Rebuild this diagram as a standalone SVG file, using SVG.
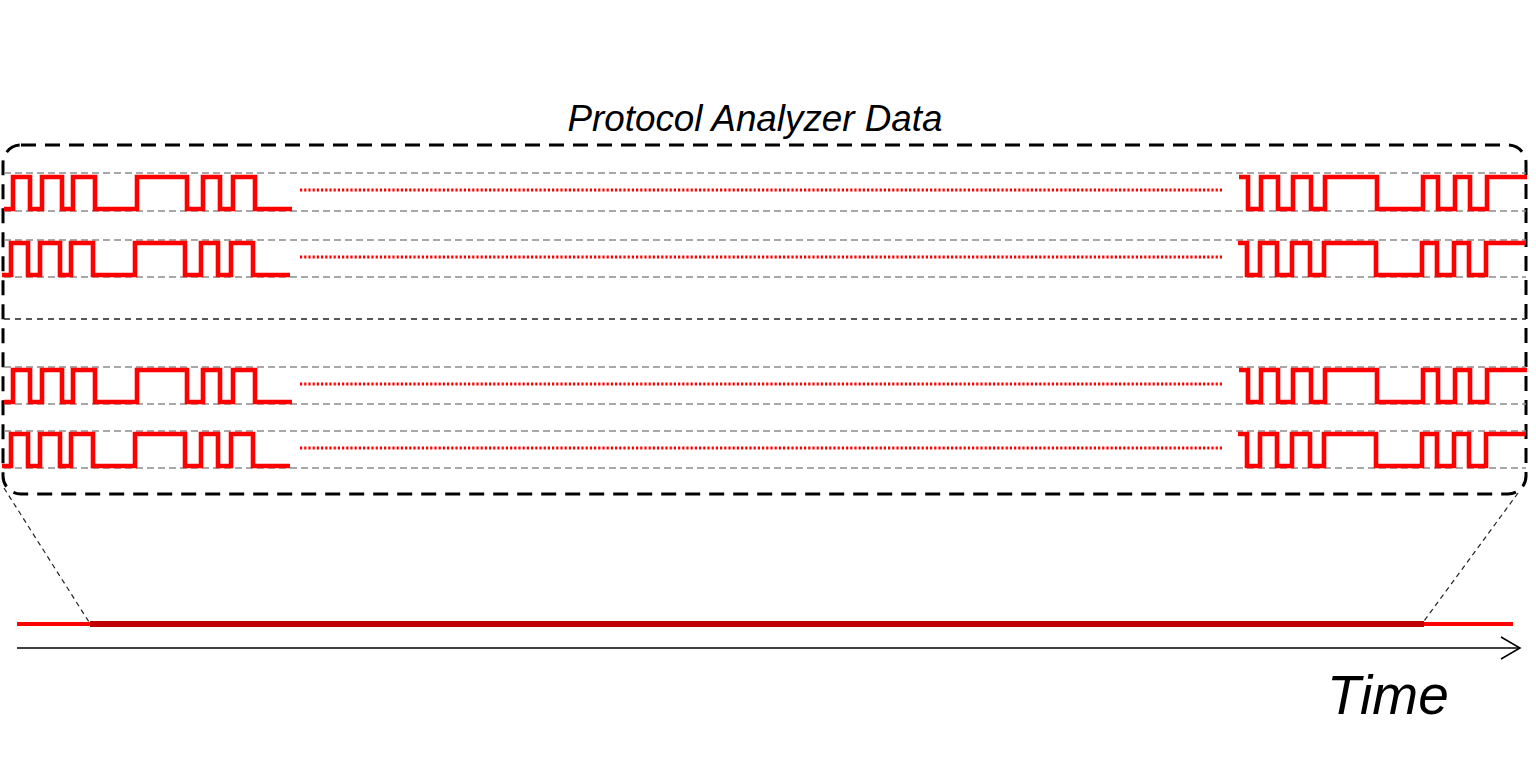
<svg xmlns="http://www.w3.org/2000/svg" xmlns:xlink="http://www.w3.org/1999/xlink" width="1536" height="768" viewBox="0 0 1536 768">
  <style>
    .wave { fill: none; stroke: #ff0000; stroke-width: 4.6; stroke-linejoin: miter; stroke-linecap: butt; }
    .dots { fill: none; stroke: #ff0000; stroke-width: 3; stroke-dasharray: 2.2 2; }
    .guide { fill: none; stroke: #8c8c8c; stroke-width: 1.4; stroke-dasharray: 7 4; }
    .sep { fill: none; stroke: #222; stroke-width: 1.5; stroke-dasharray: 6 5; }
    .frame { fill: none; stroke: #000; stroke-width: 3; stroke-dasharray: 15 9; }
    .proj { fill: none; stroke: #222; stroke-width: 1.2; stroke-dasharray: 5 4; }
    .label { font-family: "Liberation Sans", Arial, sans-serif; font-style: italic; fill: #000; }
  </style>
  <defs>
    <path id="waveL" d="M4,32 H13 V0 H30 V32 H42 V0 H62 V32 H73 V0 H95 V32 H137 V0 H187 V32 H203 V0 H220 V32 H233 V0 H255 V32 H292"/>
    <path id="waveR" d="M1239,0 H1248 V32 H1261 V0 H1278 V32 H1293 V0 H1311 V32 H1325 V0 H1377 V32 H1423 V0 H1438 V32 H1455 V0 H1470 V32 H1487 V0 H1527"/>
  </defs>
  <rect width="1536" height="768" fill="#ffffff"/>

  <text class="label" x="755" y="131" font-size="36.8" text-anchor="middle">Protocol Analyzer Data</text>

  <g id="frame">
    <rect class="frame" x="3" y="145" width="1523" height="349" rx="18" ry="18"/>
  </g>

  <g id="row1">
    <line class="guide" x1="4" y1="173" x2="1526" y2="173"/>
    <line class="guide" x1="4" y1="211" x2="1526" y2="211"/>
    <use href="#waveL" xlink:href="#waveL" class="wave" transform="translate(0,177)"/>
    <use href="#waveR" xlink:href="#waveR" class="wave" transform="translate(0,177)"/>
    <line class="dots" x1="300" y1="190" x2="1222" y2="190"/>
  </g>
  <g id="row2">
    <line class="guide" x1="4" y1="240" x2="1526" y2="240"/>
    <line class="guide" x1="4" y1="277" x2="1526" y2="277"/>
    <use href="#waveL" xlink:href="#waveL" class="wave" transform="translate(-2,243)"/>
    <use href="#waveR" xlink:href="#waveR" class="wave" transform="translate(-1,243)"/>
    <line class="dots" x1="300" y1="257" x2="1222" y2="257"/>
  </g>
  <g id="separator">
    <line class="sep" x1="4" y1="319" x2="1526" y2="319"/>
  </g>
  <g id="row3">
    <line class="guide" x1="4" y1="367" x2="1526" y2="367"/>
    <line class="guide" x1="4" y1="404" x2="1526" y2="404"/>
    <use href="#waveL" xlink:href="#waveL" class="wave" transform="translate(0,370)"/>
    <use href="#waveR" xlink:href="#waveR" class="wave" transform="translate(0,370)"/>
    <line class="dots" x1="300" y1="384" x2="1222" y2="384"/>
  </g>
  <g id="row4">
    <line class="guide" x1="4" y1="431" x2="1526" y2="431"/>
    <line class="guide" x1="4" y1="468" x2="1526" y2="468"/>
    <use href="#waveL" xlink:href="#waveL" class="wave" transform="translate(-2,434)"/>
    <use href="#waveR" xlink:href="#waveR" class="wave" transform="translate(-1,434)"/>
    <line class="dots" x1="300" y1="448" x2="1222" y2="448"/>
  </g>

  <g id="connectors">
    <line class="proj" x1="4" y1="488" x2="89" y2="622"/>
    <line class="proj" x1="1518" y1="493" x2="1424" y2="621"/>
  </g>

  <g id="timeline">
    <line x1="17" y1="624" x2="90" y2="624" stroke="#ff0000" stroke-width="4"/>
    <line x1="90" y1="624" x2="1424" y2="624" stroke="#c00000" stroke-width="6"/>
    <line x1="1424" y1="624" x2="1513" y2="624" stroke="#ff0000" stroke-width="4"/>
  </g>

  <g id="time-axis">
    <line x1="17" y1="648" x2="1519" y2="648" stroke="#000" stroke-width="1.5"/>
    <polyline points="1501,637 1520,648 1501,659" fill="none" stroke="#000" stroke-width="1.5"/>
    <text class="label" x="1327" y="714" font-size="55">Time</text>
  </g>
</svg>
